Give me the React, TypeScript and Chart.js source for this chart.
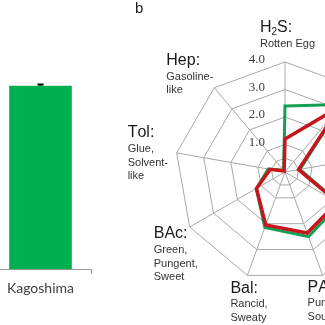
import React, { useEffect, useRef } from "react";
import { Chart, registerables } from "chart.js";

Chart.register(...registerables);

// ---------- data ----------
const barCategories = ["Kagoshima"];
const barValues = [4.0];
const barErrors = [0.03];

const radarAxes = ["H₂S", "", "", "", "PA", "Bal", "BAc", "Tol", "Hep"];
const radarDescriptions = [
  ["Rotten Egg"],
  [],
  [],
  [],
  ["Pungent,", "Sour"],
  ["Rancid,", "Sweaty"],
  ["Green,", "Pungent,", "Sweet"],
  ["Glue,", "Solvent-", "like"],
  ["Gasoline-", "like"],
];
const greenValues = [2.4, 3.2, 0.55, 2.3, 2.5, 2.15, 1.2, 0.62, 0.08];
const redValues = [1.2, 3.1, 0.5, 2.2, 2.36, 2.05, 1.2, 0.55, 0.05];
const radarTickValues = [1, 2, 3, 4];
const radarTickLabels = ["1.0", "2.0", "3.0", "4.0"];
const panelLetter = "b";

// ---------- styles ----------
const GREEN_BAR = "#00B050";
const GREEN_LINE = "#13a055";
const RED_LINE = "#c8141c";
const GRID = "#a8a8a8";
const SANS = '"Liberation Sans", Arial, sans-serif';
// offsets of each label block relative to the outer vertex of its axis
const LABEL_OFFSETS: [number, number][] = [
  [-25, -34],
  [20, -20],
  [20, 0],
  [20, 10],
  [-15, 12],
  [-17, 13],
  [-36, 7],
  [-49, -20],
  [-48, -27],
];

const radarLabelPlugin = {
  id: "radarLabels",
  afterDraw(chart: any) {
    const scale = chart.scales.r;
    const ctx = chart.ctx as CanvasRenderingContext2D;
    ctx.save();
    ctx.textAlign = "left";
    ctx.textBaseline = "middle";
    radarAxes.forEach((name, i) => {
      if (!name) return;
      const p = scale.getPointPosition(i, scale.drawingArea);
      const x = p.x + LABEL_OFFSETS[i][0];
      const y = p.y + LABEL_OFFSETS[i][1];
      let cx = x;
      ctx.fillStyle = "#1a1a1a";
      for (const ch of name) {
        const code = ch.charCodeAt(0);
        if (code >= 0x2080 && code <= 0x2089) {
          ctx.font = `10px ${SANS}`;
          const d = String.fromCharCode(code - 0x2080 + 48);
          ctx.fillText(d, cx, y + 4);
          cx += ctx.measureText(d).width;
        } else {
          ctx.font = `16px ${SANS}`;
          ctx.fillText(ch, cx, y);
          cx += ctx.measureText(ch).width;
        }
      }
      ctx.font = `16px ${SANS}`;
      ctx.fillText(":", cx, y);
      ctx.font = `11px ${SANS}`;
      ctx.fillStyle = "#333333";
      radarDescriptions[i].forEach((line, k) => {
        ctx.fillText(line, x, y + 16 + k * 13.7);
      });
    });
    ctx.font = '13px "Liberation Serif", serif';
    ctx.textAlign = "right";
    ctx.fillStyle = "#404040";
    radarTickValues.forEach((v, k) => {
      const r = scale.getDistanceFromCenterForValue(v);
      const p = scale.getPointPosition(0, r);
      ctx.fillText(radarTickLabels[k], p.x - 20, p.y - 2);
    });
    ctx.restore();
  },
};

const errorBarPlugin = {
  id: "errorBars",
  afterDatasetsDraw(chart: any) {
    const ctx = chart.ctx as CanvasRenderingContext2D;
    const yScale = chart.scales.y;
    const meta = chart.getDatasetMeta(0);
    ctx.save();
    ctx.strokeStyle = "#000";
    ctx.lineWidth = 2;
    meta.data.forEach((bar: any, i: number) => {
      const top = yScale.getPixelForValue(barValues[i] + barErrors[i]);
      const base = yScale.getPixelForValue(barValues[i]);
      ctx.beginPath();
      ctx.moveTo(bar.x, base);
      ctx.lineTo(bar.x, top);
      ctx.moveTo(bar.x - 3, top);
      ctx.lineTo(bar.x + 3, top);
      ctx.stroke();
    });
    ctx.restore();
  },
};

export default function App() {
  const barRef = useRef<HTMLCanvasElement>(null);
  const radarRef = useRef<HTMLCanvasElement>(null);

  useEffect(() => {
    const bar = new Chart(barRef.current!, {
      type: "bar",
      data: {
        labels: barCategories,
        datasets: [
          {
            data: barValues,
            backgroundColor: GREEN_BAR,
            borderWidth: 0,
            barPercentage: 0.62,
            categoryPercentage: 1,
          },
        ],
      },
      options: {
        responsive: false,
        animation: false,
        layout: { padding: { left: 0, right: 29, top: 40, bottom: 22 } },
        plugins: { legend: { display: false }, tooltip: { enabled: false } },
        scales: {
          x: {
            grid: {
              drawOnChartArea: false,
              offset: true,
              tickLength: 5,
              color: "#9a9a9a",
            },
            border: { display: true, color: "#9a9a9a" },
            ticks: {
              color: "#404040",
              font: { family: "Lato", size: 14 },
              padding: 6,
            },
          },
          y: { display: false, min: 0, max: 5 },
        },
      },
      plugins: [errorBarPlugin],
    });

    const radar = new Chart(radarRef.current!, {
      type: "radar",
      data: {
        labels: radarAxes,
        datasets: [
          {
            data: redValues,
            borderColor: RED_LINE,
            borderWidth: 3.5,
            pointRadius: 0,
            fill: false,
            backgroundColor: "transparent",
          },
          {
            data: greenValues,
            borderColor: GREEN_LINE,
            borderWidth: 3,
            pointRadius: 0,
            fill: false,
            backgroundColor: "transparent",
          },
        ],
      },
      options: {
        responsive: false,
        animation: false,
        layout: { padding: { left: 175, right: 25, top: 62, bottom: 43 } },
        plugins: { legend: { display: false }, tooltip: { enabled: false } },
        elements: { line: { tension: 0, borderJoinStyle: "miter" } },
        scales: {
          r: {
            min: 0,
            max: 4,
            ticks: { display: false, stepSize: 0.5 },
            pointLabels: { display: false },
            grid: {
              lineWidth: 1,
              color: (c: any) => {
                const v = c.tick ? c.tick.value : 0;
                if (v > 1 && Math.abs(v - Math.round(v)) > 0.01) return "rgba(0,0,0,0)";
                return GRID;
              },
            },
            angleLines: { color: GRID, lineWidth: 1 },
          },
        },
      },
      plugins: [radarLabelPlugin],
    });

    return () => {
      bar.destroy();
      radar.destroy();
    };
  }, []);

  return (
    <div
      style={{
        position: "fixed",
        left: 0,
        top: 0,
        width: 325,
        height: 325,
        overflow: "hidden",
        background: "#fff",
      }}
    >
      <canvas
        ref={barRef}
        width={130}
        height={325}
        style={{ position: "absolute", left: -10, top: 0, width: 130, height: 325 }}
      />
      <canvas
        ref={radarRef}
        width={420}
        height={325}
        style={{ position: "absolute", left: 0, top: 0, width: 420, height: 325 }}
      />
      <div
        style={{
          position: "absolute",
          left: 135,
          top: -1,
          fontFamily: SANS,
          fontSize: 15,
          color: "#1a1a1a",
        }}
      >
        {panelLetter}
      </div>
    </div>
  );
}
